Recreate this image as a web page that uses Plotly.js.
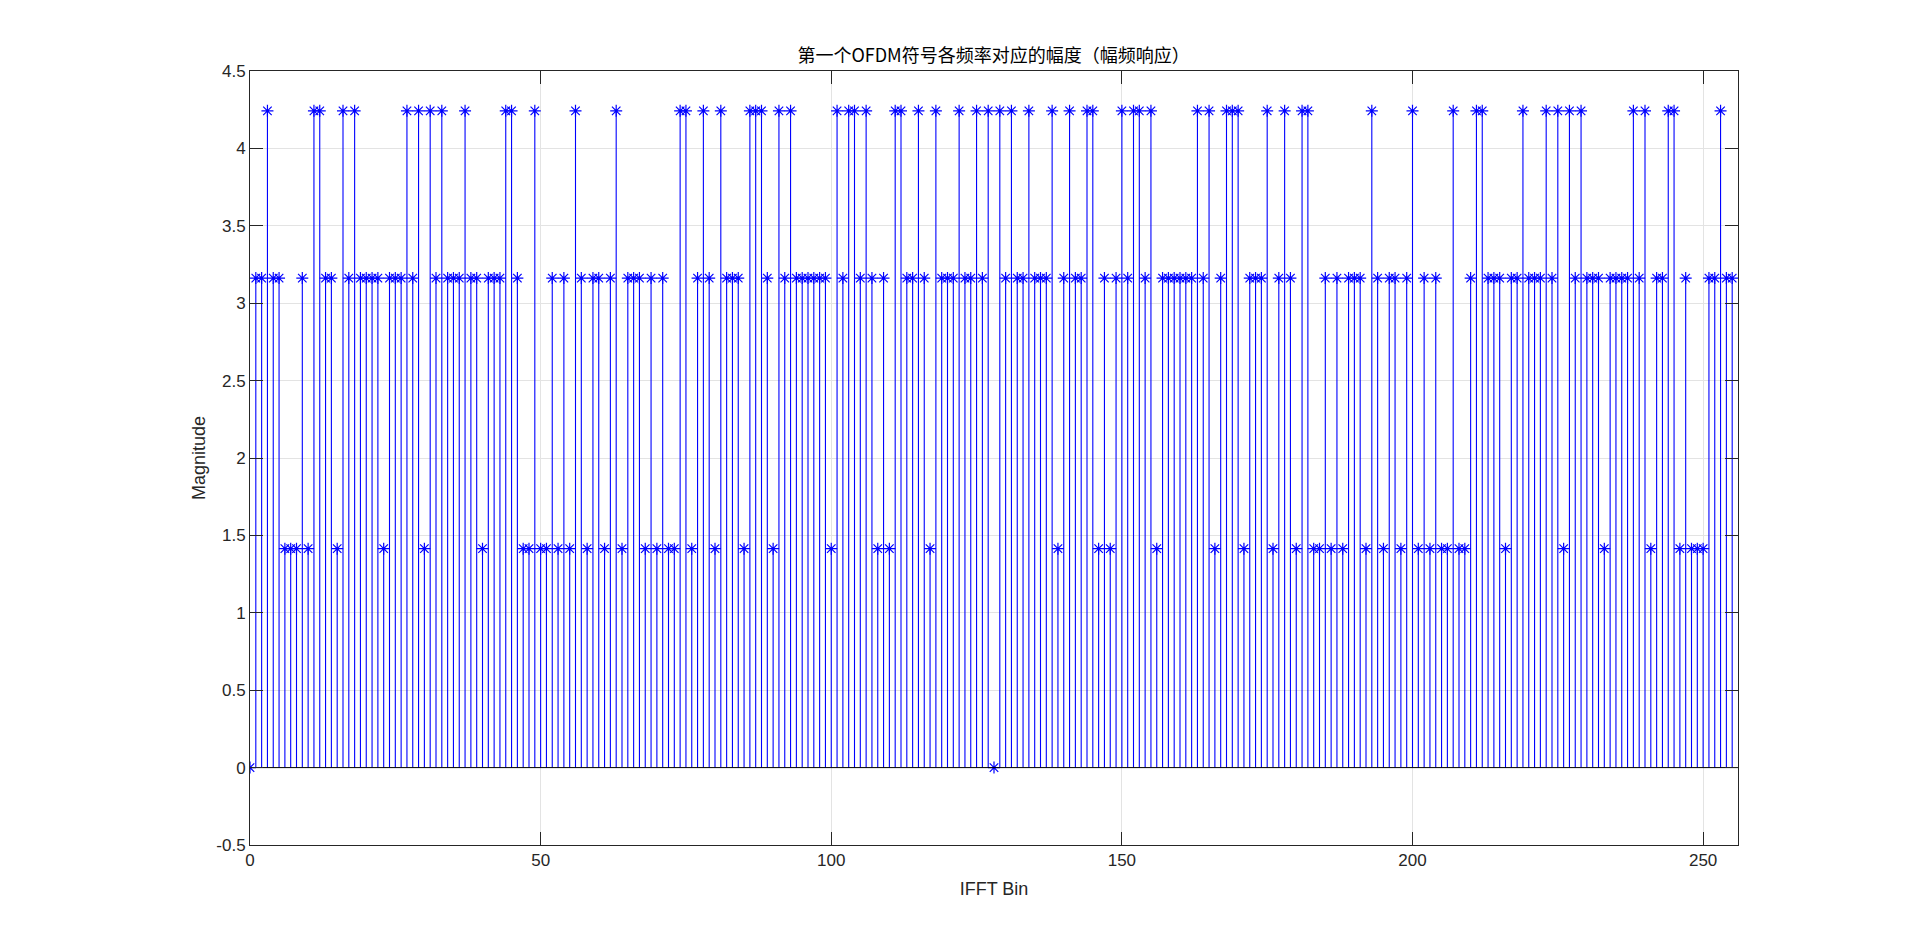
<!DOCTYPE html>
<html>
<head>
<meta charset="utf-8">
<script src="https://cdn.plot.ly/plotly-3.0.1.min.js"></script>
<style>
html,body{margin:0;padding:0;background:#ffffff;}
#chart{width:1920px;height:949px;}
</style>
</head>
<body>
<div id="chart"></div>
<script>
// Magnitude of each IFFT bin (0..255) for the first OFDM symbol (16-QAM levels)
const magnitude = [
0, 3.1623, 3.1623, 4.2426, 3.1623, 3.1623, 1.4142, 1.4142, 1.4142, 3.1623,
1.4142, 4.2426, 4.2426, 3.1623, 3.1623, 1.4142, 4.2426, 3.1623, 4.2426, 3.1623,
3.1623, 3.1623, 3.1623, 1.4142, 3.1623, 3.1623, 3.1623, 4.2426, 3.1623, 4.2426,
1.4142, 4.2426, 3.1623, 4.2426, 3.1623, 3.1623, 3.1623, 4.2426, 3.1623, 3.1623,
1.4142, 3.1623, 3.1623, 3.1623, 4.2426, 4.2426, 3.1623, 1.4142, 1.4142, 4.2426,
1.4142, 1.4142, 3.1623, 1.4142, 3.1623, 1.4142, 4.2426, 3.1623, 1.4142, 3.1623,
3.1623, 1.4142, 3.1623, 4.2426, 1.4142, 3.1623, 3.1623, 3.1623, 1.4142, 3.1623,
1.4142, 3.1623, 1.4142, 1.4142, 4.2426, 4.2426, 1.4142, 3.1623, 4.2426, 3.1623,
1.4142, 4.2426, 3.1623, 3.1623, 3.1623, 1.4142, 4.2426, 4.2426, 4.2426, 3.1623,
1.4142, 4.2426, 3.1623, 4.2426, 3.1623, 3.1623, 3.1623, 3.1623, 3.1623, 3.1623,
1.4142, 4.2426, 3.1623, 4.2426, 4.2426, 3.1623, 4.2426, 3.1623, 1.4142, 3.1623,
1.4142, 4.2426, 4.2426, 3.1623, 3.1623, 4.2426, 3.1623, 1.4142, 4.2426, 3.1623,
3.1623, 3.1623, 4.2426, 3.1623, 3.1623, 4.2426, 3.1623, 4.2426, 0, 4.2426,
3.1623, 4.2426, 3.1623, 3.1623, 4.2426, 3.1623, 3.1623, 3.1623, 4.2426, 1.4142,
3.1623, 4.2426, 3.1623, 3.1623, 4.2426, 4.2426, 1.4142, 3.1623, 1.4142, 3.1623,
4.2426, 3.1623, 4.2426, 4.2426, 3.1623, 4.2426, 1.4142, 3.1623, 3.1623, 3.1623,
3.1623, 3.1623, 3.1623, 4.2426, 3.1623, 4.2426, 1.4142, 3.1623, 4.2426, 4.2426,
4.2426, 1.4142, 3.1623, 3.1623, 3.1623, 4.2426, 1.4142, 3.1623, 4.2426, 3.1623,
1.4142, 4.2426, 4.2426, 1.4142, 1.4142, 3.1623, 1.4142, 3.1623, 1.4142, 3.1623,
3.1623, 3.1623, 1.4142, 4.2426, 3.1623, 1.4142, 3.1623, 3.1623, 1.4142, 3.1623,
4.2426, 1.4142, 3.1623, 1.4142, 3.1623, 1.4142, 1.4142, 4.2426, 1.4142, 1.4142,
3.1623, 4.2426, 4.2426, 3.1623, 3.1623, 3.1623, 1.4142, 3.1623, 3.1623, 4.2426,
3.1623, 3.1623, 3.1623, 4.2426, 3.1623, 4.2426, 1.4142, 4.2426, 3.1623, 4.2426,
3.1623, 3.1623, 3.1623, 1.4142, 3.1623, 3.1623, 3.1623, 3.1623, 4.2426, 3.1623,
4.2426, 1.4142, 3.1623, 3.1623, 4.2426, 4.2426, 1.4142, 3.1623, 1.4142, 1.4142,
1.4142, 3.1623, 3.1623, 4.2426, 3.1623, 3.1623
];
const bins = magnitude.map((_, i) => i);

const xTickVals = [0, 50, 100, 150, 200, 250];
const xTickText = ['0', '50', '100', '150', '200', '250'];
const yTickVals = [-0.5, 0, 0.5, 1, 1.5, 2, 2.5, 3, 3.5, 4, 4.5];
const yTickText = ['-0.5', '0', '0.5', '1', '1.5', '2', '2.5', '3', '3.5', '4', '4.5'];

const titleText = '第一个OFDM符号各频率对应的幅度（幅频响应）';
const xLabel = 'IFFT Bin';
const yLabel = 'Magnitude';

// stems: vertical segments from baseline to each value
const stemX = [], stemY = [];
bins.forEach((b, i) => {
  stemX.push(b, b, null);
  stemY.push(0, magnitude[i], null);
});

const font = 'Liberation Sans, Arial, sans-serif';
const axisColor = '#262626';

const traces = [
  {
    type: 'scatter', mode: 'lines', x: stemX, y: stemY,
    line: {color: '#0000ff', width: 1.1}, hoverinfo: 'skip', showlegend: false
  },
  {
    type: 'scatter', mode: 'markers', x: bins, y: magnitude,
    marker: {symbol: 'asterisk-open', size: 10, color: '#0000ff', line: {color: '#0000ff', width: 1.2}},
    showlegend: false
  },
  {
    // baseline of the stem plot
    type: 'scatter', mode: 'lines', x: [0, 256], y: [0, 0],
    line: {color: '#000000', width: 1}, hoverinfo: 'skip', showlegend: false
  }
];

const layout = {
  width: 1920, height: 949,
  paper_bgcolor: '#ffffff', plot_bgcolor: '#ffffff',
  margin: {l: 249.6, r: 182.4, t: 71.2, b: 104.4, pad: 0},
  showlegend: false,
  title: {
    text: titleText,
    font: {family: 'Noto Sans CJK SC, sans-serif', size: 18, color: '#000000'},
    x: 0.5175, xanchor: 'center', xref: 'container',
    y: 1 - 56 / 949, yanchor: 'middle', yref: 'container'
  },
  xaxis: {
    range: [0, 256],
    tickmode: 'array', tickvals: xTickVals, ticktext: xTickText,
    ticks: 'inside', ticklen: 13, tickwidth: 1, tickcolor: axisColor,
    showline: true, linecolor: axisColor, linewidth: 1, mirror: 'ticks',
    showgrid: true, gridcolor: '#e3e3e3', gridwidth: 1,
    zeroline: false,
    tickfont: {family: font, size: 17, color: axisColor},
    title: {text: xLabel, font: {family: font, size: 18, color: axisColor}, standoff: 12}
  },
  yaxis: {
    range: [-0.5, 4.5],
    tickmode: 'array', tickvals: yTickVals, ticktext: yTickText,
    ticks: 'inside', ticklen: 13, tickwidth: 1, tickcolor: axisColor,
    showline: true, linecolor: axisColor, linewidth: 1, mirror: 'ticks',
    showgrid: true, gridcolor: '#e3e3e3', gridwidth: 1,
    zeroline: false,
    tickfont: {family: font, size: 17, color: axisColor},
    title: {text: yLabel, font: {family: font, size: 18, color: axisColor}, standoff: 6}
  }
};

Plotly.newPlot('chart', traces, layout, {displayModeBar: false, staticPlot: true});
</script>
</body>
</html>
